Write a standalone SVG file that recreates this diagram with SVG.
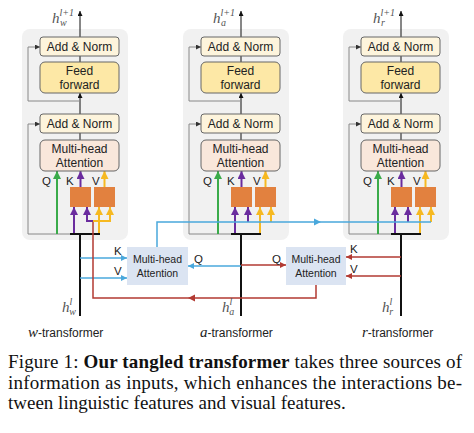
<svg xmlns="http://www.w3.org/2000/svg" width="474" height="433" viewBox="0 0 474 433">
<style>
.panel{fill:#f1f1f1;stroke:none}
.an{fill:#fdf4dc;stroke:#666;stroke-width:1}
.ff{fill:#fde8a6;stroke:#666;stroke-width:1}
.mha{fill:#f9e7db;stroke:#666;stroke-width:1}
.org{fill:#e2813f;stroke:none}
.att{fill:#dbe4f2;stroke:none}
.bt{font-family:"Liberation Sans",Arial,sans-serif;font-size:12px;fill:#222;text-anchor:middle}
.st{font-family:"Liberation Sans",Arial,sans-serif;font-size:10.5px;fill:#222;text-anchor:middle}
.qkv{font-family:"Liberation Sans",Arial,sans-serif;font-size:11.5px;fill:#222}
.math{font-family:"Liberation Serif","Times New Roman",serif;font-style:italic;fill:#555}
.lab{font-family:"Liberation Sans",Arial,sans-serif;font-size:12px;fill:#222}
.cap{font-family:"Liberation Serif","Times New Roman",serif;font-size:19px;fill:#111}
.k{fill:none;stroke:#111;stroke-width:1}
.kb{fill:none;stroke:#111;stroke-width:2}
.g{fill:none;stroke:#888;stroke-width:1}
.gr{fill:none;stroke:#3aab4a;stroke-width:2}
.pu{fill:none;stroke:#6a2c9e;stroke-width:2}
.ye{fill:none;stroke:#f6b921;stroke-width:2}
.bl{fill:none;stroke:#4aa8dc;stroke-width:1.5}
.rd{fill:none;stroke:#b23a32;stroke-width:1.5}
</style>
<defs>
<marker id="mk" viewBox="0 0 10 10" refX="10" refY="5" markerWidth="5" markerHeight="5" orient="auto" markerUnits="userSpaceOnUse"><path d="M0,0L10,5L0,10z" fill="#111"/></marker>
<marker id="mg" viewBox="0 0 10 10" refX="10" refY="5" markerWidth="5" markerHeight="5" orient="auto" markerUnits="userSpaceOnUse"><path d="M0,0L10,5L0,10z" fill="#333"/></marker>
<marker id="mgr" viewBox="0 0 10 10" refX="10" refY="5" markerWidth="8" markerHeight="8" orient="auto" markerUnits="userSpaceOnUse"><path d="M0,0L10,5L0,10z" fill="#3aab4a"/></marker>
<marker id="mpu" viewBox="0 0 10 10" refX="10" refY="5" markerWidth="8" markerHeight="8" orient="auto" markerUnits="userSpaceOnUse"><path d="M0,0L10,5L0,10z" fill="#6a2c9e"/></marker>
<marker id="mye" viewBox="0 0 10 10" refX="10" refY="5" markerWidth="8" markerHeight="8" orient="auto" markerUnits="userSpaceOnUse"><path d="M0,0L10,5L0,10z" fill="#f6b921"/></marker>
<marker id="mbl" viewBox="0 0 10 10" refX="10" refY="5" markerWidth="6" markerHeight="6" orient="auto" markerUnits="userSpaceOnUse"><path d="M0,0L10,5L0,10z" fill="#4aa8dc"/></marker>
<marker id="mrd" viewBox="0 0 10 10" refX="10" refY="5" markerWidth="6" markerHeight="6" orient="auto" markerUnits="userSpaceOnUse"><path d="M0,0L10,5L0,10z" fill="#b23a32"/></marker>
</defs>

<!-- panels -->
<rect class="panel" x="22" y="29" width="106" height="211" rx="8"/>
<rect class="panel" x="183" y="29" width="106" height="211" rx="8"/>
<rect class="panel" x="343" y="29" width="106" height="211" rx="8"/>

<g id="connectors">
  <g id="conn-w">
    <line class="k" x1="80" y1="37" x2="80" y2="11" marker-end="url(#mk)"/>
    <line class="k" x1="80" y1="62" x2="80" y2="56"/>
    <line class="k" x1="80" y1="114" x2="80" y2="93" marker-end="url(#mk)"/>
    <line class="k" x1="80" y1="140" x2="80" y2="133"/>
    <polyline class="g" points="80,101 28,101 28,47 40,47" marker-end="url(#mg)"/>
    <polyline class="g" points="70,234 28,234 28,124 40,124" marker-end="url(#mg)"/>
    <line class="gr" x1="57" y1="234" x2="57" y2="171" marker-end="url(#mgr)"/>
    <line class="pu" x1="80.5" y1="187" x2="80.5" y2="171" marker-end="url(#mpu)"/>
    <line class="ye" x1="104.5" y1="187" x2="104.5" y2="171" marker-end="url(#mye)"/>
    <line class="pu" x1="74" y1="234" x2="74" y2="207" marker-end="url(#mpu)"/>
    <line class="pu" x1="87" y1="221" x2="87" y2="207" marker-end="url(#mpu)"/>
    <line class="ye" x1="99" y1="234" x2="99" y2="207" marker-end="url(#mye)"/>
    <line class="ye" x1="110" y1="221" x2="110" y2="207" marker-end="url(#mye)"/>
    <line class="kb" x1="70" y1="234" x2="100" y2="234"/>
    <line class="kb" x1="80" y1="234" x2="80" y2="316"/>
  </g>
  <g id="conn-a" transform="translate(161,0)">
    <line class="k" x1="80" y1="37" x2="80" y2="11" marker-end="url(#mk)"/>
    <line class="k" x1="80" y1="62" x2="80" y2="56"/>
    <line class="k" x1="80" y1="114" x2="80" y2="93" marker-end="url(#mk)"/>
    <line class="k" x1="80" y1="140" x2="80" y2="133"/>
    <polyline class="g" points="80,101 28,101 28,47 40,47" marker-end="url(#mg)"/>
    <polyline class="g" points="70,234 28,234 28,124 40,124" marker-end="url(#mg)"/>
    <line class="gr" x1="57" y1="234" x2="57" y2="171" marker-end="url(#mgr)"/>
    <line class="pu" x1="80.5" y1="187" x2="80.5" y2="171" marker-end="url(#mpu)"/>
    <line class="ye" x1="104.5" y1="187" x2="104.5" y2="171" marker-end="url(#mye)"/>
    <line class="pu" x1="74" y1="234" x2="74" y2="207" marker-end="url(#mpu)"/>
    <line class="pu" x1="87" y1="222" x2="87" y2="207" marker-end="url(#mpu)"/>
    <line class="ye" x1="99" y1="234" x2="99" y2="207" marker-end="url(#mye)"/>
    <line class="ye" x1="110" y1="222" x2="110" y2="207" marker-end="url(#mye)"/>
    <line class="kb" x1="70" y1="234" x2="100" y2="234"/>
    <line class="kb" x1="80" y1="234" x2="80" y2="316"/>
  </g>
  <g id="conn-r" transform="translate(321,0)">
    <line class="k" x1="80" y1="37" x2="80" y2="11" marker-end="url(#mk)"/>
    <line class="k" x1="80" y1="62" x2="80" y2="56"/>
    <line class="k" x1="80" y1="114" x2="80" y2="93" marker-end="url(#mk)"/>
    <line class="k" x1="80" y1="140" x2="80" y2="133"/>
    <polyline class="g" points="80,101 28,101 28,47 40,47" marker-end="url(#mg)"/>
    <polyline class="g" points="70,234 28,234 28,124 40,124" marker-end="url(#mg)"/>
    <line class="gr" x1="57" y1="234" x2="57" y2="171" marker-end="url(#mgr)"/>
    <line class="pu" x1="80.5" y1="187" x2="80.5" y2="171" marker-end="url(#mpu)"/>
    <line class="ye" x1="104.5" y1="187" x2="104.5" y2="171" marker-end="url(#mye)"/>
    <line class="pu" x1="74" y1="234" x2="74" y2="207" marker-end="url(#mpu)"/>
    <line class="pu" x1="87" y1="222" x2="87" y2="207" marker-end="url(#mpu)"/>
    <line class="ye" x1="99" y1="234" x2="99" y2="207" marker-end="url(#mye)"/>
    <line class="ye" x1="110" y1="222" x2="110" y2="207" marker-end="url(#mye)"/>
    <line class="kb" x1="70" y1="234" x2="100" y2="234"/>
    <line class="kb" x1="80" y1="234" x2="80" y2="316"/>
  </g>
  <polyline class="bl" points="157,247 157,222 431,222"/>
  <path d="M321,222 L314,218.5 L314,225.5z" fill="#4aa8dc"/>
  <line class="bl" x1="80" y1="258" x2="127" y2="258" marker-end="url(#mbl)"/>
  <line class="bl" x1="80" y1="278" x2="127" y2="278" marker-end="url(#mbl)"/>
  <line class="bl" x1="241" y1="266" x2="188" y2="266" marker-end="url(#mbl)"/>
  <polyline class="rd" points="316,285 316,298 93,298 93,221"/>
  <path d="M188,298 L195,294.5 L195,301.5z" fill="#b23a32"/>
  <line class="pu" x1="86" y1="221" x2="93" y2="221"/>
  <line class="ye" x1="93" y1="221" x2="111" y2="221"/>
  <line class="rd" x1="241" y1="265" x2="286" y2="265" marker-end="url(#mrd)"/>
  <line class="rd" x1="401" y1="257" x2="346" y2="257" marker-end="url(#mrd)"/>
  <line class="rd" x1="401" y1="276" x2="346" y2="276" marker-end="url(#mrd)"/>
</g>

<g id="w-addnorm2"><rect class="an" x="40" y="37" width="79" height="19" rx="3"/><text class="bt" x="79.5" y="51">Add &amp; Norm</text></g>
<g id="w-ff"><rect class="ff" x="40" y="62" width="79" height="31" rx="5"/><text class="bt" x="79.5" y="75">Feed</text><text class="bt" x="79.5" y="89">forward</text></g>
<g id="w-addnorm1"><rect class="an" x="40" y="114" width="79" height="19" rx="3"/><text class="bt" x="79.5" y="128">Add &amp; Norm</text></g>
<g id="w-mha"><rect class="mha" x="40" y="140" width="79" height="31" rx="5"/><text class="bt" x="79.5" y="153">Multi-head</text><text class="bt" x="79.5" y="167">Attention</text></g>
<g id="w-fuseK"><rect class="org" x="70" y="187" width="21" height="20"/></g>
<g id="w-fuseV"><rect class="org" x="94" y="187" width="21" height="20"/></g>
<g id="w-qkv"><text class="qkv" x="42" y="185">Q</text><text class="qkv" x="66" y="185">K</text><text class="qkv" x="92" y="185">V</text></g>

<g id="a-addnorm2"><rect class="an" x="201" y="37" width="79" height="19" rx="3"/><text class="bt" x="240.5" y="51">Add &amp; Norm</text></g>
<g id="a-ff"><rect class="ff" x="201" y="62" width="79" height="31" rx="5"/><text class="bt" x="240.5" y="75">Feed</text><text class="bt" x="240.5" y="89">forward</text></g>
<g id="a-addnorm1"><rect class="an" x="201" y="114" width="79" height="19" rx="3"/><text class="bt" x="240.5" y="128">Add &amp; Norm</text></g>
<g id="a-mha"><rect class="mha" x="201" y="140" width="79" height="31" rx="5"/><text class="bt" x="240.5" y="153">Multi-head</text><text class="bt" x="240.5" y="167">Attention</text></g>
<g id="a-fuseK"><rect class="org" x="231" y="187" width="21" height="20"/></g>
<g id="a-fuseV"><rect class="org" x="255" y="187" width="21" height="20"/></g>
<g id="a-qkv"><text class="qkv" x="203" y="185">Q</text><text class="qkv" x="227" y="185">K</text><text class="qkv" x="253" y="185">V</text></g>

<g id="r-addnorm2"><rect class="an" x="361" y="37" width="79" height="19" rx="3"/><text class="bt" x="400.5" y="51">Add &amp; Norm</text></g>
<g id="r-ff"><rect class="ff" x="361" y="62" width="79" height="31" rx="5"/><text class="bt" x="400.5" y="75">Feed</text><text class="bt" x="400.5" y="89">forward</text></g>
<g id="r-addnorm1"><rect class="an" x="361" y="114" width="79" height="19" rx="3"/><text class="bt" x="400.5" y="128">Add &amp; Norm</text></g>
<g id="r-mha"><rect class="mha" x="361" y="140" width="79" height="31" rx="5"/><text class="bt" x="400.5" y="153">Multi-head</text><text class="bt" x="400.5" y="167">Attention</text></g>
<g id="r-fuseK"><rect class="org" x="391" y="187" width="21" height="20"/></g>
<g id="r-fuseV"><rect class="org" x="415" y="187" width="21" height="20"/></g>
<g id="r-qkv"><text class="qkv" x="363" y="185">Q</text><text class="qkv" x="387" y="185">K</text><text class="qkv" x="413" y="185">V</text></g>

<g id="att-left"><rect class="att" x="127" y="247" width="61" height="38"/><text class="st" x="157.5" y="263">Multi-head</text><text class="st" x="157.5" y="277">Attention</text>
<text class="qkv" x="114" y="255">K</text><text class="qkv" x="114" y="275">V</text><text class="qkv" x="194" y="263">Q</text></g>
<g id="att-right"><rect class="att" x="286" y="247" width="60" height="38"/><text class="st" x="316" y="263">Multi-head</text><text class="st" x="316" y="277">Attention</text>
<text class="qkv" x="272" y="263">Q</text><text class="qkv" x="350" y="253">K</text><text class="qkv" x="350" y="273">V</text></g>

<g id="labels">
<text class="math" x="52" y="23" font-size="15">h<tspan font-size="10" dy="-7">l+1</tspan><tspan font-size="10" dx="-14" dy="10">w</tspan></text>
<text class="math" x="213" y="23" font-size="15">h<tspan font-size="10" dy="-7">l+1</tspan><tspan font-size="10" dx="-14" dy="10">a</tspan></text>
<text class="math" x="373" y="23" font-size="15">h<tspan font-size="10" dy="-7">l+1</tspan><tspan font-size="10" dx="-14" dy="10">r</tspan></text>
<text class="math" x="62" y="312" font-size="15">h<tspan font-size="10" dy="-7">l</tspan><tspan font-size="10" dx="-3" dy="10">w</tspan></text>
<text class="math" x="222" y="312" font-size="15">h<tspan font-size="10" dy="-7">l</tspan><tspan font-size="10" dx="-3" dy="10">a</tspan></text>
<text class="math" x="382" y="312" font-size="15">h<tspan font-size="10" dy="-7">l</tspan><tspan font-size="10" dx="-3" dy="10">r</tspan></text>
<text x="28" y="337" class="lab"><tspan class="math" font-size="15" style="fill:#222">w</tspan>-transformer</text>
<text x="200" y="337" class="lab"><tspan class="math" font-size="15" style="fill:#222">a</tspan>-transformer</text>
<text x="362" y="337" class="lab"><tspan class="math" font-size="15" style="fill:#222">r</tspan>-transformer</text>
</g>

<g id="caption">
<text class="cap" x="8" y="368" textLength="454" lengthAdjust="spacing">Figure 1: <tspan font-weight="bold">Our tangled transformer</tspan> takes three sources of</text>
<text class="cap" x="8" y="388.5" textLength="454" lengthAdjust="spacing">information as inputs, which enhances the interactions be-</text>
<text class="cap" x="8" y="408.5">tween linguistic features and visual features.</text>
</g>
</svg>
